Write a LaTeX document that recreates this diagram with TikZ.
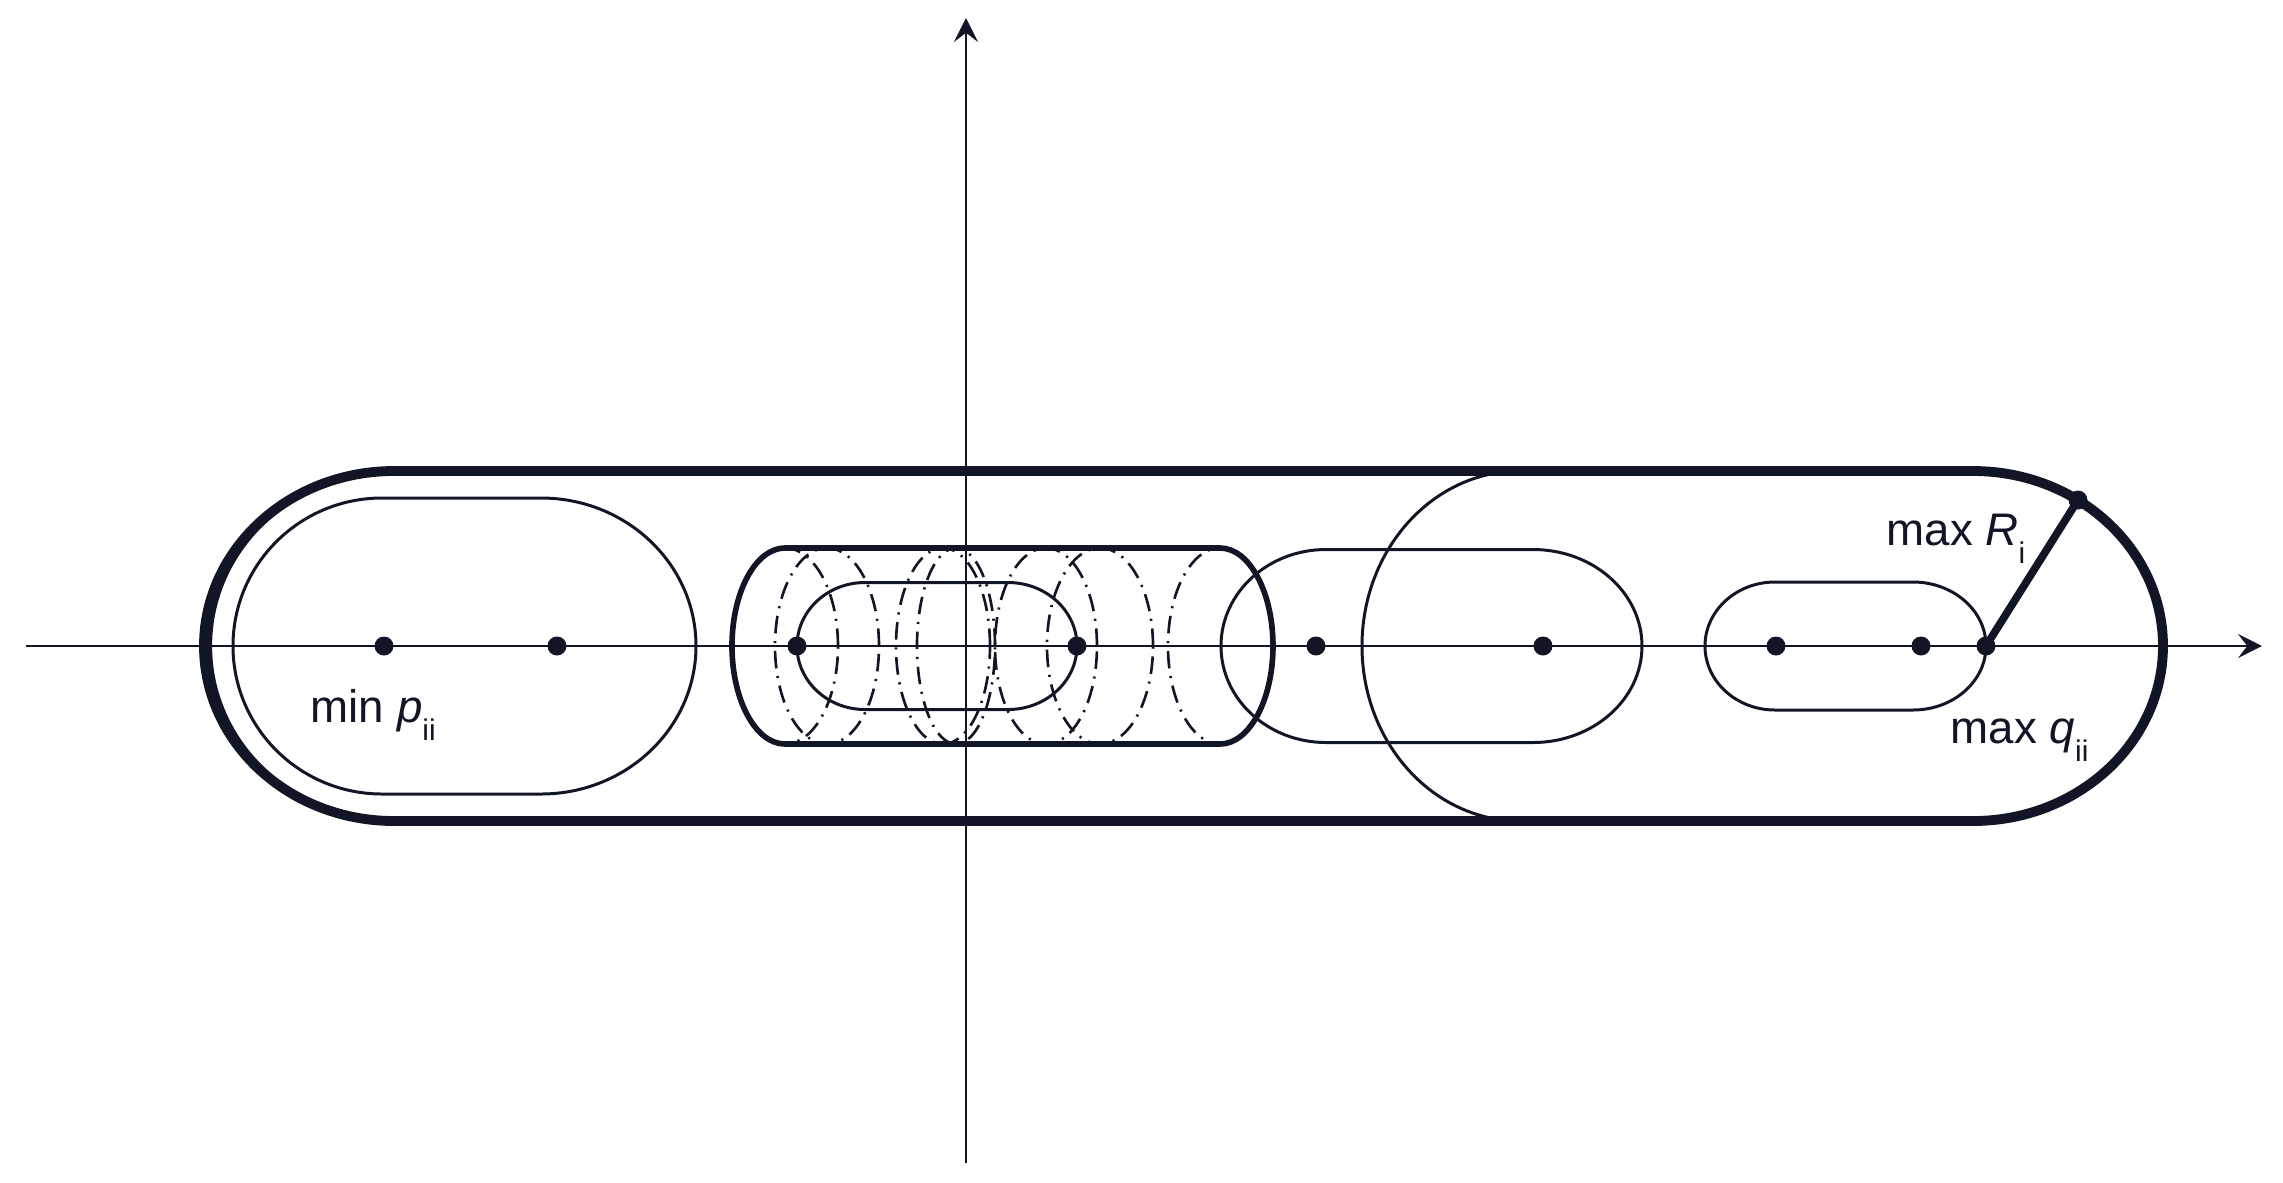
\documentclass[tikz,border=0pt]{standalone}
\usepackage{fontspec}
\setmainfont{Liberation Sans}
\usetikzlibrary{arrows.meta}
\definecolor{ink}{RGB}{17,21,37}
\newcommand{\lowidx}[1]{\raisebox{-0.75ex}{\fontsize{8.5}{8.5}\selectfont #1}}
\tikzstyle{axis} = [ink, line width=0.7pt, -{Stealth[length=6.8pt, width=6.8pt, inset=2.6pt]}]
\tikzstyle{envelope} = [ink, line width=2.8pt]
\tikzstyle{region} = [ink, line width=0.85pt]
\tikzstyle{tube} = [ink, line width=1.6pt]
\tikzstyle{sweep} = [ink, line width=0.75pt, dash pattern=on 5pt off 2.2pt on 0.6pt off 2.2pt]
\tikzstyle{pt} = [circle, fill=ink, inner sep=0pt, minimum size=5.4pt]
\tikzstyle{lbl} = [text=ink, font=\fontsize{13}{15}\selectfont, inner sep=0pt]
\tikzstyle{reach} = [ink, line width=2.2pt]

\begin{document}
\begin{tikzpicture}
\useasboundingbox (-9.66,-5.36) rectangle (13.17,6.46);
\coordinate (west) at (-9.40,0);
\coordinate (east) at (12.96,0);
\coordinate (south) at (0,-5.17);
\coordinate (north) at (0,6.28);
\draw [axis] (west) -- (east);
\draw [axis] (south) -- (north);

\draw [envelope] (-5.72,1.75) -- (10.07,1.75) arc[start angle=90, end angle=-90, x radius=1.9, y radius=1.75] -- (-5.72,-1.75) arc[start angle=270, end angle=90, x radius=1.9, y radius=1.75] -- cycle;
\draw [region, line width=1.2pt] (-5.72,1.75) arc[start angle=90, end angle=270, x radius=1.84, y radius=1.75];
\draw [region] (5.54,1.75) arc[start angle=90, end angle=270, x radius=1.58, y radius=1.75];

\draw [region] (-5.84,1.48) -- (-4.25,1.48) arc[start angle=90, end angle=-90, x radius=1.55, y radius=1.48] -- (-5.84,-1.48) arc[start angle=270, end angle=90, x radius=1.49, y radius=1.48] -- cycle;

\draw [sweep] (-1.81,0) ellipse [x radius=0.53, y radius=0.98];
\draw [sweep] (-1.39,0) ellipse [x radius=0.52, y radius=0.98];
\draw [sweep] (-0.23,0) ellipse [x radius=0.47, y radius=0.98];
\draw [sweep] (-0.10,0) ellipse [x radius=0.39, y radius=0.98];
\draw [sweep] (0.80,0) ellipse [x radius=0.51, y radius=0.98];
\draw [sweep] (1.34,0) ellipse [x radius=0.53, y radius=0.98];
\draw [sweep] (2.54,0) ellipse [x radius=0.52, y radius=0.98];
\draw [tube] (-1.81,0.98) -- (2.54,0.98) arc[start angle=90, end angle=-90, x radius=0.53, y radius=0.98] -- (-1.81,-0.98) arc[start angle=270, end angle=90, x radius=0.53, y radius=0.98] -- cycle;
\draw [region] (-1.01,0.635) -- (0.42,0.635) arc[start angle=90, end angle=-90, x radius=0.69, y radius=0.635] -- (-1.01,-0.635) arc[start angle=270, end angle=90, x radius=0.68, y radius=0.635] -- cycle;

\draw [region] (3.60,0.965) -- (5.67,0.965) arc[start angle=90, end angle=-90, x radius=1.09, y radius=0.965] -- (3.60,-0.965) arc[start angle=270, end angle=90, x radius=1.05, y radius=0.965] -- cycle;

\draw [region] (8.09,0.64) -- (9.47,0.64) arc[start angle=90, end angle=-90, x radius=0.73, y radius=0.64] -- (8.09,-0.64) arc[start angle=270, end angle=90, x radius=0.70, y radius=0.64] -- cycle;

\node (p1) [pt] at (-5.82,0) {};
\node (p2) [pt] at (-4.09,0) {};
\node (p3) [pt] at (-1.69,0) {};
\node (p4) [pt] at (1.11,0) {};
\node (p5) [pt] at (3.50,0) {};
\node (p6) [pt] at (5.77,0) {};
\node (p7) [pt] at (8.10,0) {};
\node (p8) [pt] at (9.55,0) {};
\node (qmax) [pt] at (10.20,0) {};
\node (rmax) [pt] at (11.12,1.46) {};
\draw [reach] (qmax.center) -- (rmax.center);

\node (minp) [lbl, anchor=base west] at (-6.56,-0.76) {min \textit{p}\lowidx{ii}};
\node (maxr) [lbl, anchor=base west] at (9.20,1.01) {max \textit{R}\lowidx{i}};
\node (maxq) [lbl, anchor=base west] at (9.84,-0.97) {max \textit{q}\lowidx{ii}};
\end{tikzpicture}
\end{document}
